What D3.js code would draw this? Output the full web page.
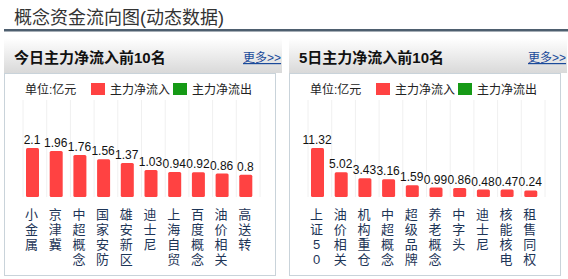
<!DOCTYPE html>
<html>
<head>
<meta charset="utf-8">
<script src="https://cdn.jsdelivr.net/npm/d3@7"></script>
<style>
  body { margin: 0; background: #fff; }
  svg { font-family: Arial, "Liberation Sans", "Noto Sans CJK SC", sans-serif; }
</style>
</head>
<body>
<div id="chart"></div>
<script>
var titles = ["今日主力净流入前10名", "5日主力净流入前10名"];

var todayNames = ["小金属", "京津冀", "中超概念", "国家安防", "雄安新区", "迪士尼", "上海自贸", "百度概念", "油价相关", "高送转"];
var todayValues = [2.1, 1.96, 1.76, 1.56, 1.37, 1.03, 0.94, 0.92, 0.86, 0.8];

var fiveDayNames = ["上证50", "油价相关", "机构重仓", "中超概念", "超级品牌", "养老概念", "中字头", "迪士尼", "核能核电", "租售同权"];
var fiveDayValues = [11.32, 5.02, 3.43, 3.16, 1.59, 0.99, 0.86, 0.48, 0.47, 0.24];

var legendLabels = ["主力净流入", "主力净流出"];
var legendColors = ["#ff4242", "#169a16"];

width = 568;
height = 279;
panelOffset = 285;
barBottom = 197;
barTop = 148;

var svg = d3.select("#chart")
            .append("svg")
            .attr("width", width)
            .attr("height", height);

var defs = svg.append("defs");
var grad = defs.append("linearGradient")
               .attr("id", "hdr")
               .attr("x1", 0).attr("y1", 0)
               .attr("x2", 0).attr("y2", 1);
grad.append("stop").attr("offset", "0%").attr("stop-color", "#ffffff");
grad.append("stop").attr("offset", "100%").attr("stop-color", "#d9d9d9");

// page title + dark rule
svg.append("text")
   .attr("x", 14)
   .attr("y", 24)
   .style("font-size", "18px")
   .style("fill", "#333")
   .text("概念资金流向图(动态数据)");

svg.append("rect")
   .attr("x", 4).attr("y", 29)
   .attr("width", width - 4).attr("height", 2.5)
   .style("fill", "#4e5f6f");

function drawPanel(offset, title, names, values) {
  var g = svg.append("g").attr("transform", "translate(" + offset + ",0)");

  // header
  g.append("rect")
   .attr("x", 4).attr("y", 38)
   .attr("width", 278).attr("height", 35)
   .style("fill", "url(#hdr)");

  g.append("text")
   .attr("x", 14).attr("y", 63)
   .style("font-size", "15px")
   .style("font-weight", "bold")
   .style("fill", "#111")
   .text(title);

  g.append("text")
   .attr("x", 243).attr("y", 62)
   .style("font-size", "12px")
   .style("fill", "#1a4a9a")
   .style("text-decoration", "underline")
   .text("更多>>");

  // inner box
  g.append("rect")
   .attr("x", 4.5).attr("y", 73.5)
   .attr("width", 271).attr("height", 202)
   .style("fill", "#fff")
   .style("stroke", "#c9d3da");

  // legend
  g.append("text")
   .attr("x", 25).attr("y", 94)
   .style("font-size", "12px")
   .style("fill", "#222")
   .text("单位:亿元");

  var lg = g.selectAll(".lg")
            .data(legendLabels)
            .enter()
            .append("g")
            .attr("transform", function(d, i) { return "translate(" + (91 + i * 82) + ",0)"; });
  lg.append("rect")
    .attr("x", 0).attr("y", 83)
    .attr("width", 14).attr("height", 12)
    .style("fill", function(d, i) { return legendColors[i]; });
  lg.append("text")
    .attr("x", 19).attr("y", 94)
    .style("font-size", "12px")
    .style("fill", "#222")
    .text(function(d) { return d; });

  var x = d3.scaleBand()
            .domain(names)
            .range([23, 260]);

  var maxV = d3.max(values);
  var y = d3.scaleLinear()
            .domain([-0.13 * maxV, maxV])
            .range([barBottom, barTop]);

  // faint vertical grid
  g.selectAll(".grid")
   .data(d3.range(names.length + 1))
   .enter()
   .append("line")
   .attr("x1", function(i) { return 23 + i * x.step(); })
   .attr("x2", function(i) { return 23 + i * x.step(); })
   .attr("y1", 100).attr("y2", barBottom)
   .style("stroke", "#f0f0f0");

  var bars = g.selectAll(".bar")
              .data(values)
              .enter();

  bars.append("rect")
      .attr("x", function(d, i) { return x(names[i]) + 3; })
      .attr("y", function(d) { return y(d); })
      .attr("width", 13)
      .attr("height", function(d) { return barBottom - y(d); })
      .attr("rx", 1.5)
      .style("fill", legendColors[0]);

  bars.append("text")
      .attr("x", function(d, i) { return x(names[i]) + 9; })
      .attr("y", function(d) { return y(d) - 4; })
      .attr("text-anchor", "middle")
      .style("font-size", "12px")
      .style("fill", "#111")
      .text(function(d) { return d; });

  // vertical category labels
  var cat = g.selectAll(".cat")
             .data(names)
             .enter()
             .append("text")
             .attr("text-anchor", "middle")
             .style("font-size", "13px")
             .style("fill", "#1d3557");
  cat.selectAll("tspan")
     .data(function(d) { return Array.from(d); })
     .enter()
     .append("tspan")
     .attr("x", function() { return x(this.parentNode.__data__) + 8.5; })
     .attr("y", function(c, j) { return 219 + j * 15; })
     .text(function(c) { return c; });
}

drawPanel(0, titles[0], todayNames, todayValues);
drawPanel(panelOffset, titles[1], fiveDayNames, fiveDayValues);
</script>
</body>
</html>
